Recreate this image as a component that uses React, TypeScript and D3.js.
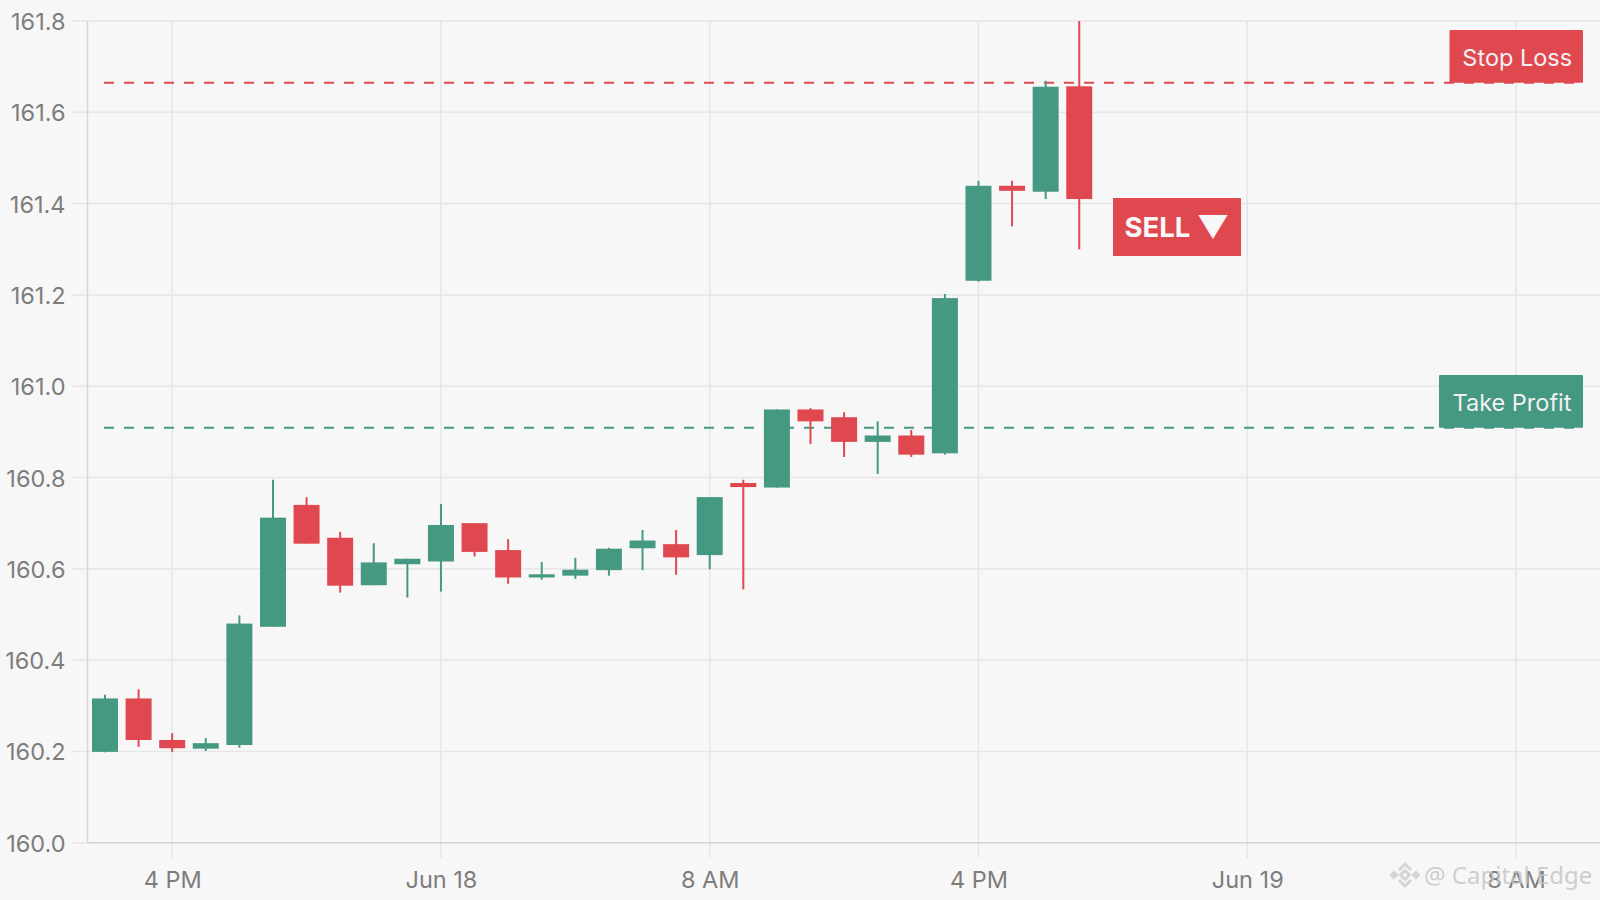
import { useEffect, useRef } from 'react';
import * as d3 from 'd3';

// hourly candles, USD/JPY style prices
const opens = [160.199, 160.316, 160.225, 160.206, 160.214, 160.473, 160.74, 160.668, 160.564, 160.61, 160.616, 160.7, 160.641, 160.581, 160.585, 160.597, 160.645, 160.654, 160.63, 160.788, 160.778, 160.949, 160.932, 160.878, 160.892, 160.853, 161.231, 161.439, 161.426, 161.657];
const closes = [160.316, 160.225, 160.207, 160.218, 160.48, 160.712, 160.655, 160.563, 160.614, 160.622, 160.696, 160.637, 160.581, 160.588, 160.598, 160.644, 160.662, 160.625, 160.757, 160.779, 160.949, 160.923, 160.878, 160.892, 160.85, 161.193, 161.439, 161.428, 161.656, 161.41];
const highs = [160.324, 160.336, 160.24, 160.229, 160.498, 160.795, 160.757, 160.681, 160.656, 160.622, 160.742, 160.7, 160.665, 160.615, 160.624, 160.646, 160.685, 160.685, 160.757, 160.795, 160.949, 160.952, 160.943, 160.923, 160.904, 161.202, 161.45, 161.45, 161.669, 161.8];
const lows = [160.198, 160.21, 160.199, 160.201, 160.208, 160.473, 160.655, 160.548, 160.564, 160.537, 160.55, 160.627, 160.567, 160.576, 160.578, 160.585, 160.597, 160.587, 160.599, 160.555, 160.778, 160.873, 160.845, 160.808, 160.845, 160.85, 161.229, 161.35, 161.41, 161.3];

const yTicks = [160.0, 160.2, 160.4, 160.6, 160.8, 161.0, 161.2, 161.4, 161.6, 161.8];
const xTicks = [
  new Date(Date.UTC(2024, 5, 17, 16)),
  new Date(Date.UTC(2024, 5, 18, 0)),
  new Date(Date.UTC(2024, 5, 18, 8)),
  new Date(Date.UTC(2024, 5, 18, 16)),
  new Date(Date.UTC(2024, 5, 19, 0)),
  new Date(Date.UTC(2024, 5, 19, 8)),
];
const firstCandle = new Date(Date.UTC(2024, 5, 17, 14));
const times = opens.map((_, i) => d3.utcHour.offset(firstCandle, i));

const stopLoss = 161.665;
const takeProfit = 160.909;

const GREEN = '#459881';
const RED = '#e0484f';
const FONT = 'Inter, "Noto Sans", sans-serif';

export default function App() {
  const svgRef = useRef<SVGSVGElement>(null);

  useEffect(() => {
    if (!svgRef.current) return;
    const width = 1600;
    const height = 900;
    const plotLeft = 87.5;
    const plotBottom = 842.7;
    const plotTop = 21;

    const root = d3.select(svgRef.current);
    root.selectAll('*').remove();
    root.attr('viewBox', `0 0 ${width} ${height}`);

    root.append('rect').attr('width', width).attr('height', height).attr('fill', '#f7f7f7');

    const x = d3.scaleUtc().domain([firstCandle, xTicks[5]]).range([105, 1516]);
    const y = d3.scaleLinear().domain([160, 161.8]).range([plotBottom, plotTop]);

    // grid
    root.append('g')
      .selectAll('line')
      .data(yTicks)
      .join('line')
      .attr('x1', 72)
      .attr('x2', width)
      .attr('y1', (d) => y(d))
      .attr('y2', (d) => y(d))
      .attr('stroke', '#e6e6e6')
      .attr('stroke-width', 1.5);

    root.append('g')
      .selectAll('line')
      .data(xTicks)
      .join('line')
      .attr('x1', (d) => x(d))
      .attr('x2', (d) => x(d))
      .attr('y1', plotTop)
      .attr('y2', 858)
      .attr('stroke', '#e6e6e6')
      .attr('stroke-width', 1.5);

    // axis lines
    root.append('line').attr('x1', plotLeft).attr('x2', plotLeft).attr('y1', plotTop).attr('y2', plotBottom)
      .attr('stroke', '#d6d6d6').attr('stroke-width', 1.5);
    root.append('line').attr('x1', plotLeft).attr('x2', width).attr('y1', plotBottom).attr('y2', plotBottom)
      .attr('stroke', '#d6d6d6').attr('stroke-width', 1.5);

    // tick labels
    const fmtX = (d: Date) => {
      if (d.getUTCHours() === 0) return d3.utcFormat('%b %-d')(d);
      return d3.utcFormat('%-I %p')(d);
    };

    const yAxis = d3.axisLeft(y).tickValues(yTicks).tickFormat((d) => d3.format('.1f')(d as number)).tickSize(0).tickPadding(0);
    const yG = root.append('g').attr('transform', 'translate(65.5,1)').call(yAxis);
    yG.select('.domain').remove();
    yG.selectAll('text')
      .attr('font-family', FONT)
      .attr('font-size', 23.5)
      .attr('fill', '#7d7d7d');

    const xAxis = d3.axisBottom(x).tickValues(xTicks).tickFormat((d) => fmtX(d as Date)).tickSize(0).tickPadding(0);
    const xG = root.append('g').attr('transform', 'translate(0,871)').call(xAxis);
    xG.select('.domain').remove();
    xG.selectAll('text')
      .attr('font-family', FONT)
      .attr('font-size', 23.5)
      .attr('fill', '#7d7d7d')
      .attr('dy', '0.72em');

    // level lines
    const levels = [
      { value: stopLoss, color: RED, label: 'Stop Loss', x0: 1449.5, h: 52.7 },
      { value: takeProfit, color: GREEN, label: 'Take Profit', x0: 1439, h: 52.7 },
    ];

    levels.forEach((l) => {
      const g = root.append('g');
      g.append('rect')
        .attr('x', l.x0)
        .attr('y', y(l.value) - l.h)
        .attr('width', 1583 - l.x0)
        .attr('height', l.h)
        .attr('rx', 1)
        .attr('fill', l.color);
      g.append('line')
        .attr('x1', 104)
        .attr('x2', 1583)
        .attr('y1', y(l.value))
        .attr('y2', y(l.value))
        .attr('stroke', l.color)
        .attr('stroke-width', 2)
        .attr('stroke-dasharray', '10,10');
      g.append('text')
        .attr('x', (l.x0 + 1583) / 2 + 1)
        .attr('y', y(l.value) - l.h / 2 + 1)
        .attr('dy', '0.36em')
        .attr('text-anchor', 'middle')
        .attr('font-family', FONT)
        .attr('font-size', 23.5)
        .attr('fill', '#f1f1f1')
        .text(l.label);
    });

    // candles
    const bodyW = 26;
    const candles = root.append('g')
      .selectAll('g')
      .data(times.map((t, i) => ({ t, open: opens[i], close: closes[i], high: highs[i], low: lows[i] })))
      .join('g')
      .attr('fill', (d) => (d.close >= d.open ? GREEN : RED))
      .attr('stroke', (d) => (d.close >= d.open ? GREEN : RED));

    candles.append('line')
      .attr('x1', (d) => x(d.t))
      .attr('x2', (d) => x(d.t))
      .attr('y1', (d) => y(d.high))
      .attr('y2', (d) => y(d.low))
      .attr('stroke-width', 2);

    candles.append('rect')
      .attr('x', (d) => x(d.t) - bodyW / 2)
      .attr('y', (d) => y(Math.max(d.open, d.close)))
      .attr('width', bodyW)
      .attr('height', (d) => Math.abs(y(d.open) - y(d.close)))
      .attr('stroke', 'none');

    // sell marker
    const sell = root.append('g');
    sell.append('rect').attr('x', 1113).attr('y', 198).attr('width', 128).attr('height', 58).attr('fill', RED);
    const sellText = sell.append('text')
      .attr('x', 1124.5)
      .attr('y', 237)
      .attr('font-family', FONT)
      .attr('font-size', 27.5)
      .attr('font-weight', 700)
      .attr('fill', '#f7f7f7');
    sellText.append('tspan').text('SELL ');
    sellText.append('tspan').attr('font-size', 31).attr('dy', 1).text('▼');

    // watermark
    const wm = root.append('g');
    const icon = wm.append('g')
      .attr('transform', 'translate(1405,875)')
      .attr('fill', 'none')
      .attr('stroke', '#d4d4d4')
      .attr('stroke-width', 3);
    icon.append('path').attr('d', 'M-4.5,0L0,-4.5L4.5,0L0,4.5Z');
    icon.append('path').attr('d', 'M-6,-5L0,-11L6,-5');
    icon.append('path').attr('d', 'M-6,5L0,11L6,5');
    icon.append('path').attr('d', 'M-11,-2.5L-8.5,0L-11,2.5L-13.5,0Z');
    icon.append('path').attr('d', 'M11,-2.5L13.5,0L11,2.5L8.5,0Z');
    wm.append('text')
      .attr('x', 1424)
      .attr('y', 884)
      .attr('font-family', '"Noto Sans", sans-serif')
      .attr('font-size', 24)
      .attr('fill', '#c6c6c6')
      .attr('fill-opacity', 0.85)
      .text('@ Capital Edge');
  }, []);

  return (
    <svg
      ref={svgRef}
      width={1600}
      height={900}
      style={{ position: 'fixed', left: 0, top: 0, display: 'block' }}
    />
  );
}
